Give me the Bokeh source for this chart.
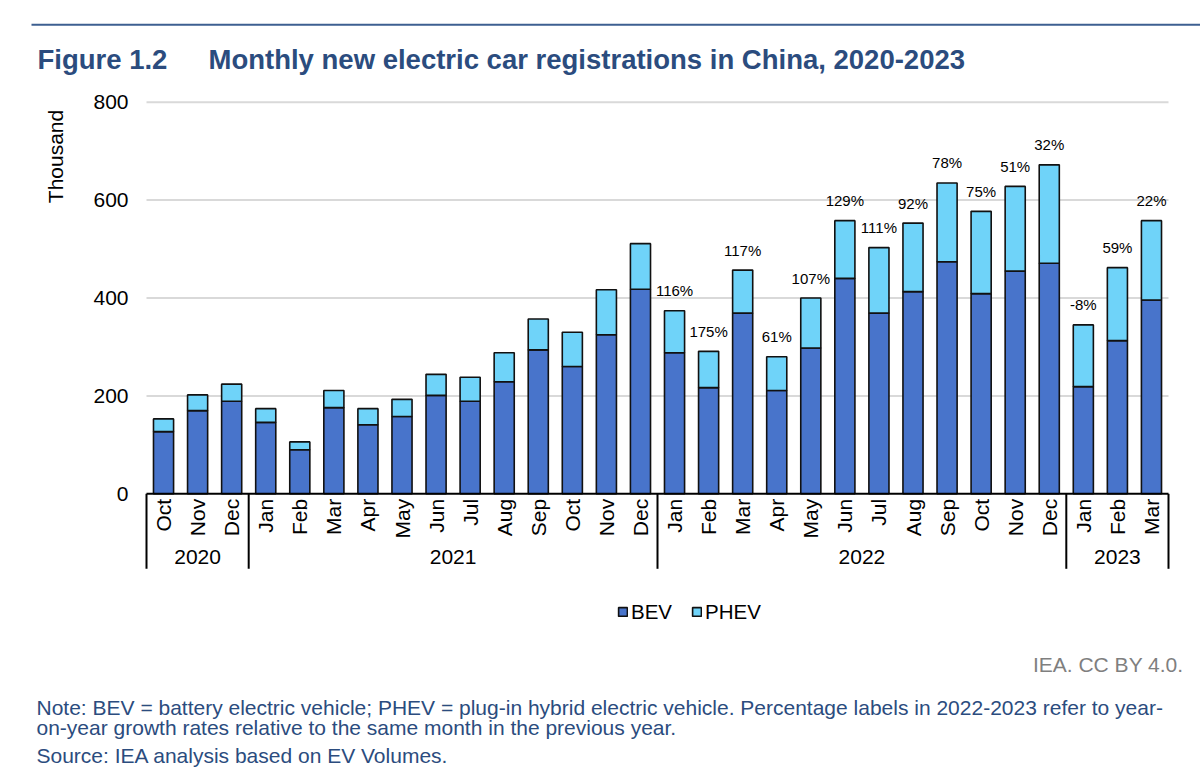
from math import pi

import numpy as np
from bokeh.core.properties import value
from bokeh.embed import file_html
from bokeh.models import BoxAnnotation, ColumnDataSource, Label, Range1d
from bokeh.plotting import figure
from bokeh.resources import INLINE

# ---- data (thousand vehicles) ----
months = ["Oct", "Nov", "Dec",
          "Jan", "Feb", "Mar", "Apr", "May", "Jun", "Jul", "Aug", "Sep", "Oct", "Nov", "Dec",
          "Jan", "Feb", "Mar", "Apr", "May", "Jun", "Jul", "Aug", "Sep", "Oct", "Nov", "Dec",
          "Jan", "Feb", "Mar"]
years = ["2020", "2021", "2022", "2023"]
months_per_year = [3, 12, 12, 3]
bev = [127, 170, 189,
       146, 90, 176, 141, 158, 201, 189, 229, 294, 260, 325, 418,
       288, 217, 369, 211, 298, 440, 369, 413, 474, 409, 455, 471,
       219, 313, 396]
phev = [26, 32, 35,
        28, 16, 35, 33, 35, 43, 49, 59, 63, 70, 92, 93,
        86, 74, 88, 69, 102, 118, 134, 140, 161, 168, 173, 201,
        126, 149, 162]
# year-on-year growth, Jan 2022 - Mar 2023
growth = [116, 175, 117, 61, 107, 129, 111, 92, 78, 75, 51, 32, -8, 59, 22]
y_ticks = [0, 200, 400, 600, 800]

# ---- styling / page geometry (pixels) ----
FONT = "Liberation Sans"
BEV_COLOR = "#4874CB"
PHEV_COLOR = "#6FD3F9"
NAVY = "#2B4C7E"
W, H = 1200, 779
PLOT_LEFT, PLOT_RIGHT = 146, 1168      # category band extent
ZERO_PX, TOP_TICK_PX = 493.3, 101.7    # vertical position of 0 and of the top tick

n = len(months)
px_per_cat = (PLOT_RIGHT - PLOT_LEFT) / n
px_per_unit = (ZERO_PX - TOP_TICK_PX) / y_ticks[-1]
x_range = Range1d(-PLOT_LEFT / px_per_cat, n + (W - PLOT_RIGHT) / px_per_cat)
y_range = Range1d(-(H - ZERO_PX) / px_per_unit, ZERO_PX / px_per_unit)

xpos = np.arange(n) + 0.5
total = np.array(bev) + np.array(phev)

p = figure(width=W, height=H, x_range=x_range, y_range=y_range,
           x_axis_location=None, y_axis_location=None,
           output_backend="svg", toolbar_location=None,
           min_border=0)
p.outline_line_color = None
p.background_fill_color = "white"
p.border_fill_color = "white"
for g in p.grid:
    g.visible = False

text_style = dict(text_font=value(FONT), text_color="black")

# value axis: gridlines and tick labels
grid_ticks = y_ticks[1:]
p.segment(x0=0, y0=grid_ticks, x1=n, y1=grid_ticks, line_color="#D9D9D9", line_width=2)
p.text(x=0, y=y_ticks, text=[str(t) for t in y_ticks], text_align="right",
       text_baseline="middle", x_offset=-18, text_font_size=value("21px"), **text_style)

src = ColumnDataSource(dict(x=xpos, bev=bev, phev=phev, total=total, month=months))

p.vbar_stack(["bev", "phev"], x="x", width=0.59, source=src,
             fill_color=[BEV_COLOR, PHEV_COLOR], line_color="#111111", line_width=1.6,
             legend_label=["BEV", "PHEV"])

# category axis: baseline, month labels, year groups and separators
bounds = np.cumsum([0] + months_per_year)
centers = (bounds[:-1] + bounds[1:]) / 2
sep_depth = 75 / px_per_unit

p.segment(x0=[0], y0=[0], x1=[n], y1=[0], line_color="black", line_width=2)
p.segment(x0=bounds, y0=0, x1=bounds, y1=-sep_depth, line_color="black", line_width=2)

p.text(x="x", y=0, text="month", source=src, angle=pi / 2,
       text_align="right", text_baseline="middle", y_offset=5,
       text_font_size=value("21px"), **text_style)
p.text(x=centers, y=0, text=years, text_align="center", text_baseline="middle",
       y_offset=63, text_font_size=value("21px"), **text_style)

# growth labels above the 2022-2023 bars
k = len(growth)
gsrc = ColumnDataSource(dict(x=xpos[-k:], y=total[-k:], t=[f"{g}%" for g in growth]))
p.text(x="x", y="y", text="t", source=gsrc, text_align="center", text_baseline="middle",
       y_offset=-20, text_font_size=value("15px"), **text_style)

# legend
leg = p.legend[0]
leg.orientation = "horizontal"
leg.location = (617, H - 623.5)
leg.label_text_font = FONT
leg.label_text_font_size = "20.5px"
leg.label_text_color = "black"
leg.glyph_width = 11
leg.glyph_height = 11
leg.label_height = 11
leg.label_standoff = 3
leg.spacing = 19
leg.padding = 0
leg.margin = 0
leg.border_line_color = None
leg.background_fill_alpha = 0


def page_label(text, cx, cy, **kw):
    """Place text at page pixel coordinates (cx from left, cy from top)."""
    kw.setdefault("text_font", FONT)
    p.add_layout(Label(x=cx, y=H - cy, x_units="screen", y_units="screen", text=text, **kw))


# heading rule and title
p.add_layout(BoxAnnotation(left=31, right=W, bottom=H - 25.3, top=H - 23.3,
                           left_units="screen", right_units="screen",
                           bottom_units="screen", top_units="screen",
                           fill_color="#3D5F91", fill_alpha=1, line_color=None))
page_label("Figure 1.2", 37, 59, text_font_size="27.5px", text_font_style="bold",
           text_color=NAVY, text_baseline="alphabetic")
page_label("Monthly new electric car registrations in China, 2020-2023", 208, 59,
           text_font_size="27.5px", text_font_style="bold", text_color=NAVY,
           text_baseline="alphabetic")

# value axis title
page_label("Thousand", 55, 156, angle=pi / 2, text_align="center", text_baseline="middle",
           text_font_size="21px", text_color="black")

# credits and notes
page_label("IEA. CC BY 4.0.", 1183, 664, text_align="right", text_baseline="alphabetic",
           text_font_size="21px", text_color="#7F7F7F")
page_label("Note: BEV = battery electric vehicle; PHEV = plug-in hybrid electric vehicle. "
           "Percentage labels in 2022-2023 refer to year-", 36, 706.5,
           text_baseline="alphabetic", text_font_size="21px", text_color=NAVY)
page_label("on-year growth rates relative to the same month in the previous year.", 36, 727,
           text_baseline="alphabetic", text_font_size="21px", text_color=NAVY)
page_label("Source: IEA analysis based on EV Volumes.", 36, 754.5,
           text_baseline="alphabetic", text_font_size="21px", text_color=NAVY)

open("out.html", "w").write(file_html(p, INLINE))
